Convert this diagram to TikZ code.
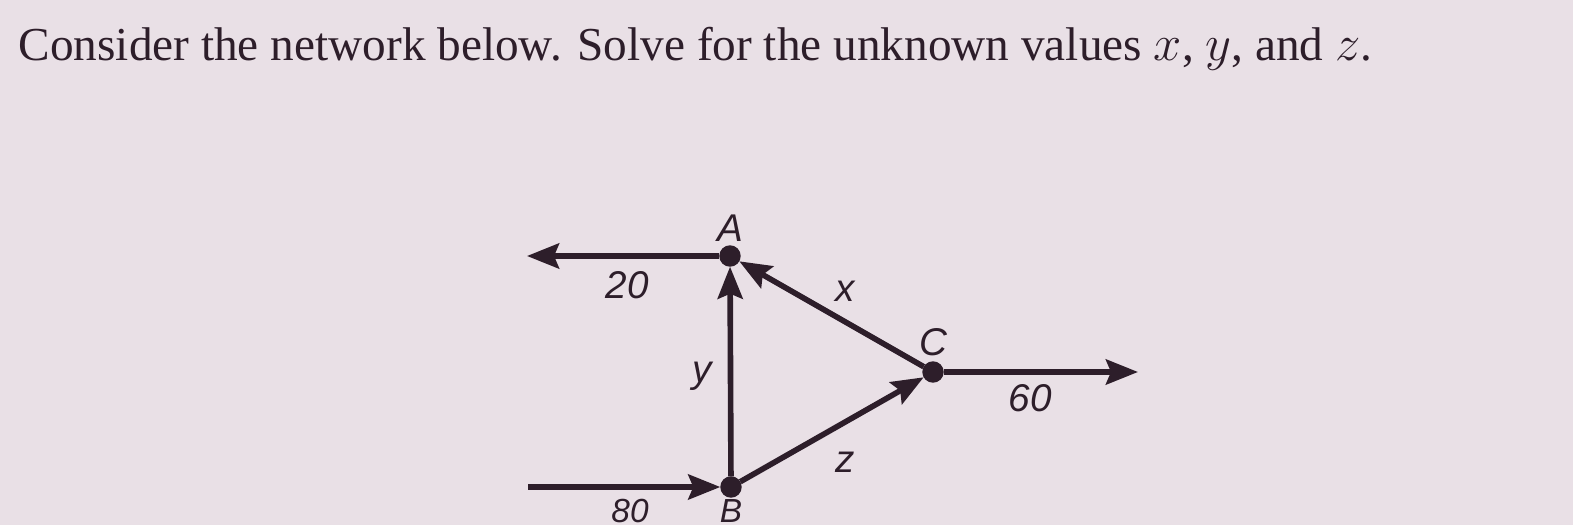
\documentclass[tikz,border=0pt]{standalone}
\usepackage{fontspec}
\setmainfont{Liberation Serif}
\setsansfont{Liberation Sans}
\usetikzlibrary{arrows.meta}
\definecolor{paper}{RGB}{233,224,230}
\definecolor{ink}{RGB}{45,30,42}

\begin{document}
\begin{tikzpicture}[x=1cm,y=1cm,
  dot/.style={draw=ink,fill=ink,circle,inner sep=0pt,minimum size=.2cm},
  lbl/.style={text=ink,font=\sffamily\itshape\fontsize{11}{13}\selectfont,inner sep=0pt},
  low/.style={lbl,font=\sffamily\itshape\fontsize{9.5}{11}\selectfont},
  flow/.style={draw=ink,line width=1.6pt,-{Stealth[length=.32cm,width=.25cm,inset=.05cm]}}]
\fill[paper] (0,0) rectangle (15.73,5.25);
\useasboundingbox (0,0) rectangle (15.73,5.25);
% title
\node[anchor=base west,text=ink,inner sep=0pt,font=\fontsize{13.45}{16}\selectfont] (title) at (.18,4.64)
  {Consider the network below. Solve for the unknown values $x$, $y$, and $z$.};
% junctions
\node[dot] (A) at (7.30,2.69){};
\node[dot] (B) at (7.31,.38){};
\node[dot] (C) at (9.33,1.53){};
\coordinate (out20) at (5.27,2.69);
\coordinate (in80) at (5.28,.38);
\coordinate (out60) at (11.38,1.53);
% flows
\draw[flow] (A)--(out20);
\draw[flow] (in80)--(B);
\draw[flow] (B)--(A);
\draw[flow] (C)--(A);
\draw[flow] (B)--(C);
\draw[flow] (C)--(out60);
% labels
\node[lbl] (nA) at (7.30,2.97){A};
\node[low] (nB) at (7.31,.14){B};
\node[lbl] (nC) at (9.33,1.83){C};
\node[lbl] (n20) at (6.27,2.40){20};
\node[low] (n80) at (6.30,.14){80};
\node[lbl] (n60) at (10.30,1.27){60};
\node[lbl] (nx) at (8.45,2.34){x};
\node[lbl] (ny) at (7.02,1.49){y};
\node[lbl] (nz) at (8.45,.63){z};
\end{tikzpicture}
\end{document}
